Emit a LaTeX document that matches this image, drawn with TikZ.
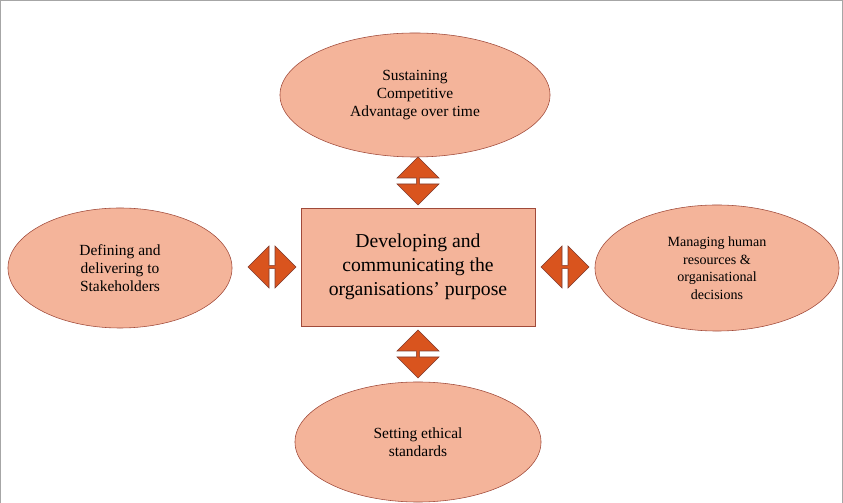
\documentclass[tikz,border=0pt]{standalone}
\usepackage{fontspec}
\setmainfont{Liberation Serif}
\usetikzlibrary{shapes.geometric,shapes.arrows,positioning}
\definecolor{salmon}{HTML}{F4B49A}
\definecolor{rim}{HTML}{A04A3A}
\definecolor{arrowfill}{HTML}{D9541E}
\tikzset{
    topic/.style = {ellipse, draw=rim, fill=salmon, align=center, font=\fontsize{11}{13}\selectfont},
    twoway/.style = {double arrow, draw=rim!80!black, fill=arrowfill, minimum width=1.05cm,
        double arrow head extend=0.08cm, inner sep=0pt, minimum height=1.2cm}
}

\begin{document}
\begin{tikzpicture}[x=0.025cm, y=-0.025cm]
    \useasboundingbox (0,0) rectangle (843,503);
    \draw[gray!70, line width=1pt] (0.5,503) -- (0.5,0.5) -- (842.5,0.5) -- (842.5,503);

    \node[draw=rim, fill=salmon, minimum width=5.85cm, minimum height=2.95cm, align=center,
        font=\fontsize{14}{17}\selectfont] (purpose) at (418,267)
        {Developing and\\communicating the\\organisations' purpose};

    \node[topic, minimum width=6.75cm, minimum height=3.1cm] (advantage) at (415,95)
        {Sustaining\\Competitive\\Advantage over time};
    \node[topic, minimum width=5.6cm, minimum height=3cm] (stakeholders) at (120,268)
        {Defining and\\delivering to\\Stakeholders};
    \node[topic, minimum width=6.1cm, minimum height=3.15cm,
        font=\fontsize{10}{12.5}\selectfont] (resources) at (717,268)
        {Managing human\\resources \&\\organisational\\decisions};
    \node[topic, minimum width=6.15cm, minimum height=3cm] (ethics) at (418,442)
        {Setting ethical\\standards};

    \node[twoway, rotate=90] (upper) at (418,181) {};
    \node[twoway, rotate=90] (lower) at (418,354) {};
    \node[twoway] (leftside) at (272,267) {};
    \node[twoway] (rightside) at (565,267) {};
\end{tikzpicture}
\end{document}
